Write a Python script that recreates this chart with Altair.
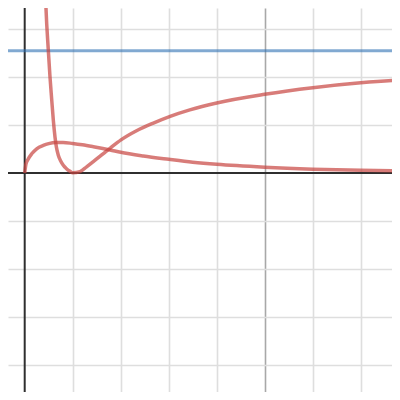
import altair as alt
import pandas as pd

# Curve A: rising hump then slow decay
a_x = [0.0, 0.027, 0.075, 0.146, 0.25, 0.3875, 0.5, 0.65, 0.8, 1.0, 1.2, 1.43, 1.78, 2.0,
       2.47, 3.0, 3.5, 4.0, 5.0, 6.0, 7.0, 7.82, 8.0]
a_y = [0.0, 0.19, 0.295, 0.40, 0.505, 0.575, 0.612, 0.635, 0.636, 0.615, 0.588, 0.548,
       0.479, 0.431, 0.354, 0.285, 0.225, 0.180, 0.120, 0.080, 0.055, 0.042, 0.040]

# Curve B: steep drop to zero at x=1, then rising toward ~2
b_x = [0.42, 0.4375, 0.492, 0.527, 0.5625, 0.596, 0.631, 0.66, 0.70, 0.75, 0.804, 0.87,
       0.944, 1.0, 1.152, 1.29, 1.429, 1.777, 2.006, 2.33, 2.68, 3.03, 3.44, 4.0, 5.0,
       6.0, 7.0, 7.82, 8.0]
b_y = [4.2, 3.598, 2.556, 2.0, 1.53, 1.1, 0.75, 0.54, 0.37, 0.25, 0.16, 0.09,
       0.035, 0.004, 0.03, 0.127, 0.235, 0.515, 0.69, 0.88, 1.04, 1.18, 1.315, 1.46, 1.64,
       1.777, 1.88, 1.937, 1.945]

# Horizontal constant line
h_value = [2.548]

x_grid = [1, 2, 3, 4, 5, 6, 7]
y_grid = [-4, -3, -2, -1, 1, 2, 3]

x_dom = [-0.348, 7.652]
y_dom = [-4.5625, 3.4375]

RED = "#c74440"
BLUE = "#2d70b3"

curves = pd.concat([
    pd.DataFrame({"x": a_x, "y": a_y, "curve": "A"}),
    pd.DataFrame({"x": b_x, "y": b_y, "curve": "B"}),
])

grid_color = {"condition": [{"test": "datum.value === 5", "value": "#a8a8a8"}], "value": "#dedede"}

xs = alt.Scale(domain=x_dom, nice=False, zero=False)
ys = alt.Scale(domain=y_dom, nice=False, zero=False)

xax = alt.Axis(values=x_grid, grid=True, labels=False, ticks=False, domain=False, title=None,
               gridColor=grid_color, gridWidth=1.6, gridOpacity=1)
yax = alt.Axis(values=y_grid, grid=True, labels=False, ticks=False, domain=False, title=None,
               gridColor="#dedede", gridWidth=1.6, gridOpacity=1)

base_grid = alt.Chart(pd.DataFrame({"x": [0], "y": [0]})).mark_point(opacity=0).encode(
    x=alt.X("x:Q", scale=xs, axis=xax),
    y=alt.Y("y:Q", scale=ys, axis=yax),
)

axis_df = pd.DataFrame({"v": [0]})
vaxis = alt.Chart(axis_df).mark_rule(color="#2f2f2f", strokeWidth=2).encode(
    x=alt.X("v:Q", scale=xs)
)
haxis = alt.Chart(axis_df).mark_rule(color="#2f2f2f", strokeWidth=2).encode(
    y=alt.Y("v:Q", scale=ys)
)

hline = alt.Chart(pd.DataFrame({"v": h_value})).mark_rule(
    color=BLUE, strokeWidth=3, opacity=0.6
).encode(y=alt.Y("v:Q", scale=ys))

lines = alt.Chart(curves).mark_line(
    color=RED, strokeWidth=3.5, opacity=0.7, interpolate="monotone", clip=True
).encode(
    x=alt.X("x:Q", scale=xs),
    y=alt.Y("y:Q", scale=ys),
    detail="curve:N",
)

chart = alt.layer(base_grid, vaxis, haxis, hline, lines).properties(
    width=384, height=384, padding=0, autosize=alt.AutoSizeParams(type="none")
).configure_view(stroke=None)

chart.save("out.html", embed_options={"renderer": "svg", "actions": False})
